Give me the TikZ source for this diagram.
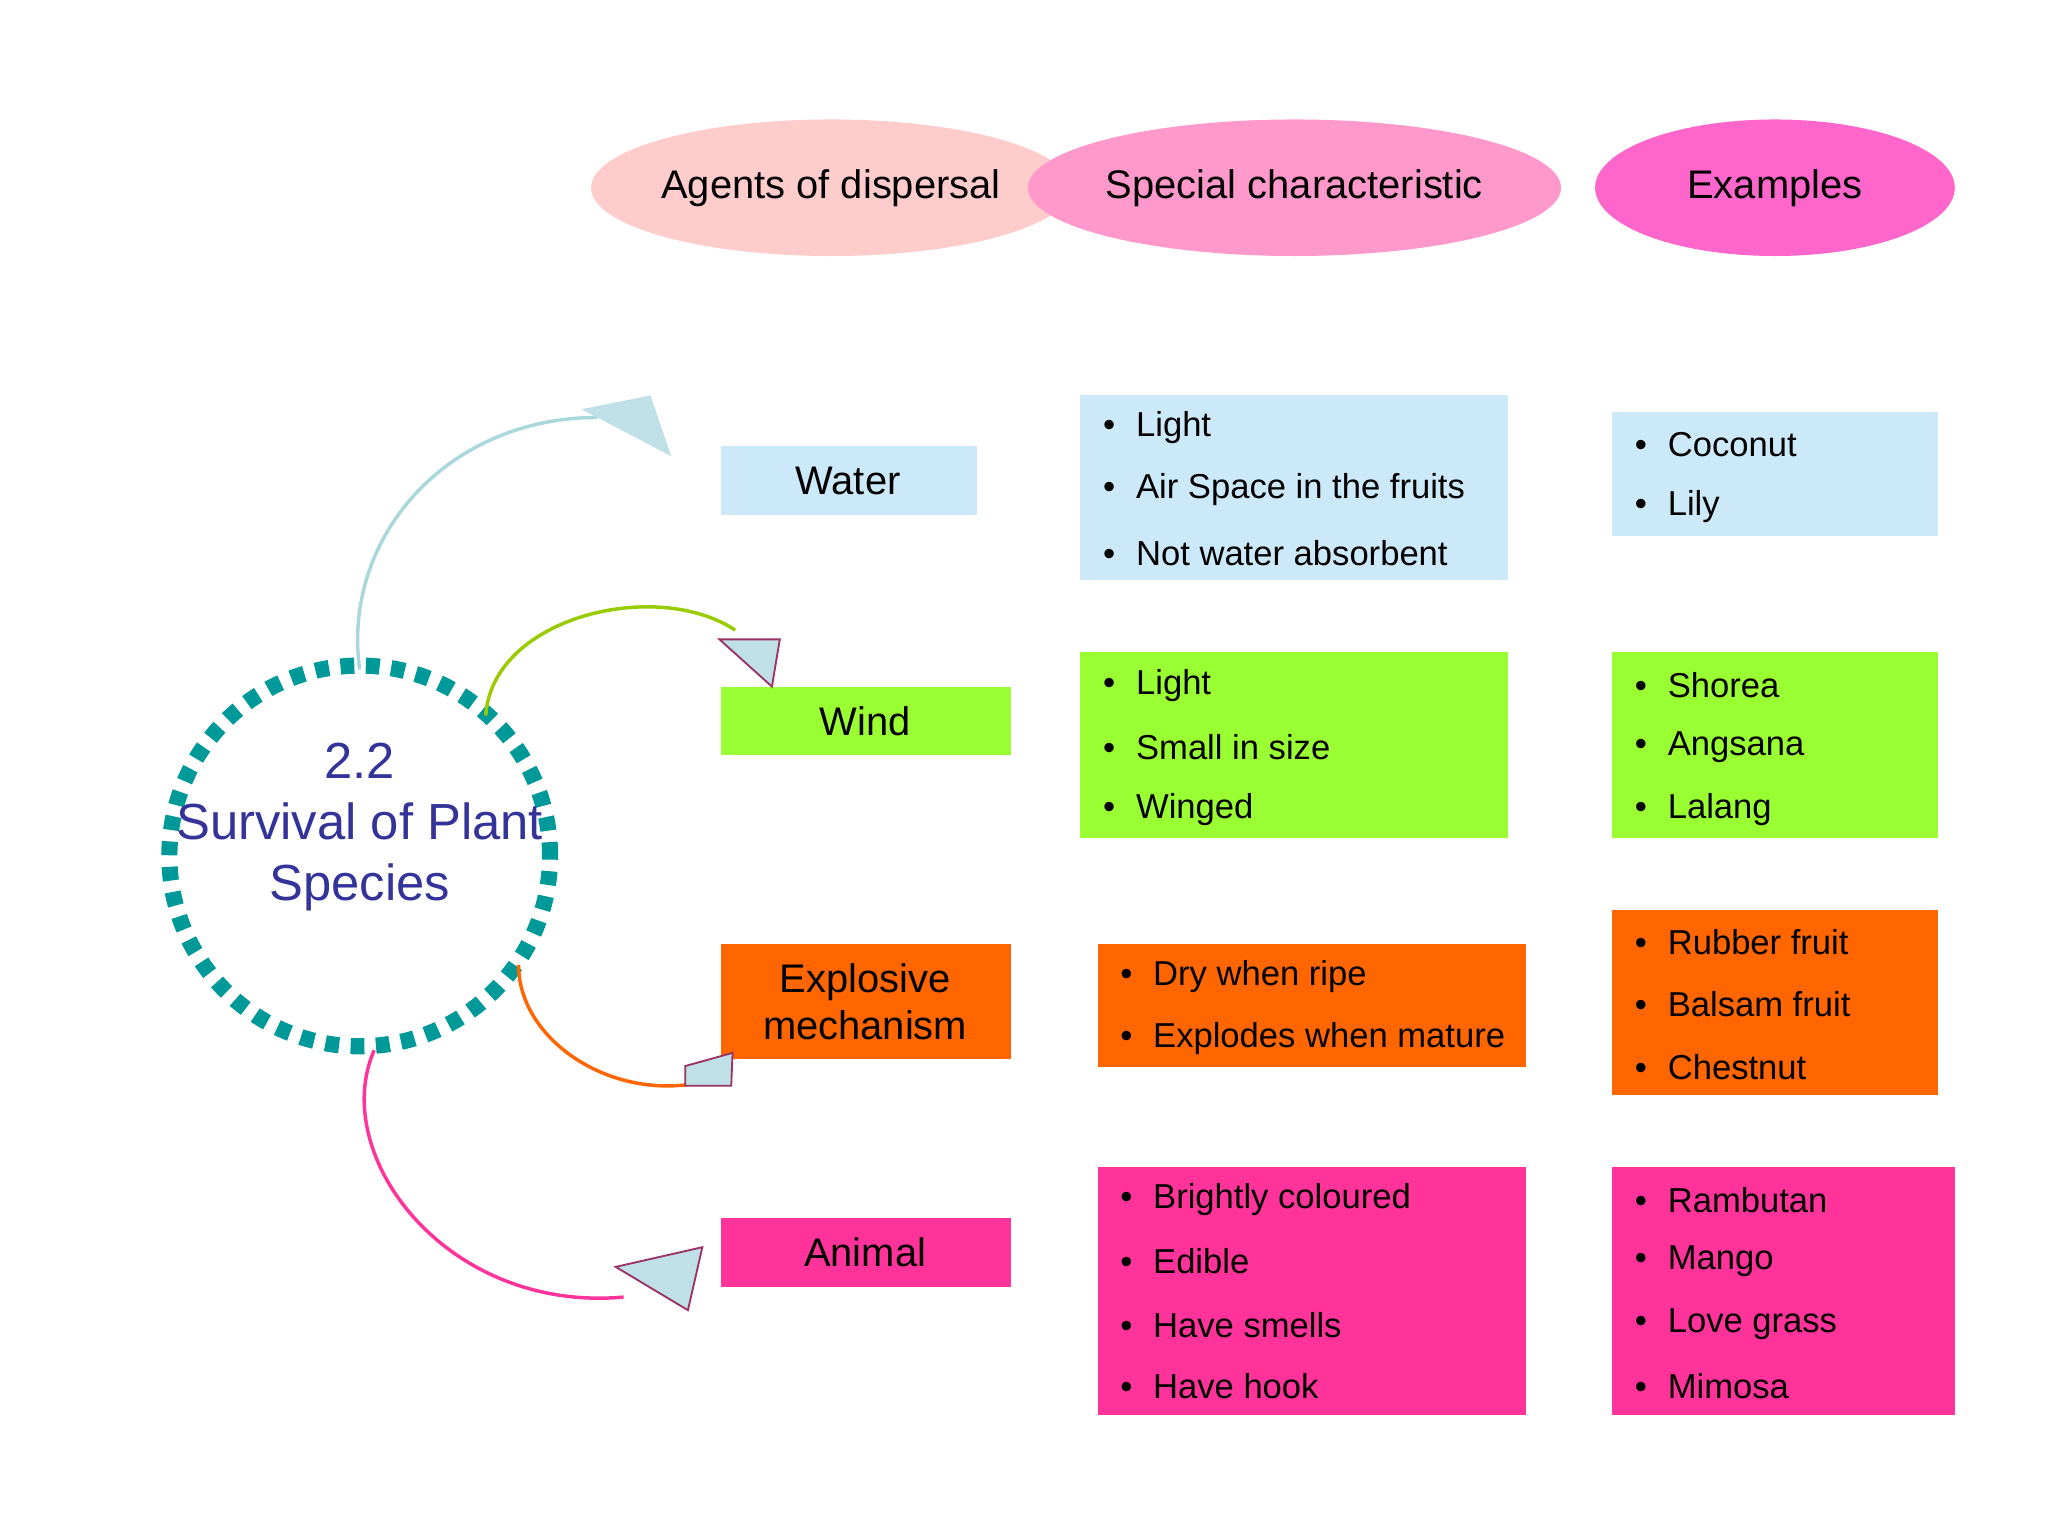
\documentclass[tikz,border=0pt]{standalone}
\usepackage{fontspec}
\setmainfont{Liberation Sans}
\usetikzlibrary{shapes.geometric}
\begin{document}
\begin{tikzpicture}[x=0.02cm,y=-0.02cm,
  hdr/.style={ellipse,minimum width=326*0.02cm,minimum height=104*0.02cm,inner sep=0pt,font=\fontsize{17.3}{20}\selectfont},
  agent/.style={rectangle,inner sep=0pt,align=center,font=\fontsize{17.3}{20}\selectfont},
  bl/.style={anchor=west,inner sep=0pt,font=\fontsize{15}{18}\selectfont},
  tip/.style={fill=arrfill,line width=0.8pt}]
\definecolor{cblue}{HTML}{CCE9F9}
\definecolor{cgreen}{HTML}{99FF33}
\definecolor{corange}{HTML}{FF6600}
\definecolor{cpink}{HTML}{FF3399}
\definecolor{arrfill}{HTML}{BFE0E6}
\definecolor{teal}{HTML}{009999}
\definecolor{navy}{HTML}{333399}
\useasboundingbox (0,0) rectangle (1560,1170);
\fill[white] (0,0) rectangle (1560,1170);
% headers
\node[hdr,fill={rgb,255:red,255;green,204;blue,204}] (h1) at (633,143) {Agents of dispersal};
\node[hdr,fill={rgb,255:red,255;green,153;blue,204}] (h2) at (986,143) {Special characteristic};
\node[hdr,fill={rgb,255:red,255;green,102;blue,204},minimum width=274*0.02cm] (h3) at (1352,143) {Examples};
% agent boxes
\fill[cblue] (549,340) rectangle (744,392); \node[agent] (water) at (646,366) {Water};
\fill[cgreen] (549,523) rectangle (770,575); \node[agent] (wind) at (659,549) {Wind};
\fill[corange] (549,719) rectangle (770,807); \node[agent] (expl) at (659,763) {Explosive\\mechanism};
\fill[cpink] (549,928) rectangle (770,980); \node[agent] (animal) at (659,954) {Animal};
% special boxes
\fill[cblue] (823,301) rectangle (1149,442);
\fill[cgreen] (823,497) rectangle (1149,638);
\fill[corange] (836,719) rectangle (1162,813);
\fill[cpink] (836,889) rectangle (1162,1078);
% example boxes
\fill[cblue] (1228,314) rectangle (1476,408);
\fill[cgreen] (1228,497) rectangle (1476,638);
\fill[corange] (1228,693) rectangle (1476,834);
\fill[cpink] (1228,889) rectangle (1489,1078);
% bullets
\foreach \t/\y [count=\i] in {Light/326,Air Space in the fruits/373,Not water absorbent/421,Light/522,Small in size/569,Winged/617}
  \node[bl] (sa\i) at (840,\y) {•\hspace{0.6em}\t};
\foreach \t/\y [count=\i] in {Dry when ripe/744,Explodes when mature/791,Brightly coloured/914,Edible/961,Have smells/1009,Have hook/1056}
  \node[bl] (sb\i) at (853,\y) {•\hspace{0.6em}\t};
\foreach \t/\y [count=\i] in {Coconut/339,Lily/386,Shorea/522,Angsana/569,Lalang/617,Rubber fruit/718,Balsam fruit/765,Chestnut/813,Rambutan/914,Mango/961,Love grass/1009,Mimosa/1056}
  \node[bl] (ex\i) at (1245,\y) {•\hspace{0.6em}\t};
% circle
\node[circle,draw=teal,line width=7pt,dash pattern=on 6pt off 5pt,minimum size=290*0.02cm] (c) at (274,652) {};
\node[align=center,text=navy,font=\fontsize{22}{26.5}\selectfont] (ctext) at (274,630) {2.2\\Survival of Plant\\Species};
% connectors
\coordinate (w0) at (274,510); \coordinate (w1) at (455,318);
\draw[color={rgb,255:red,170;green,215;blue,220},line width=1.5pt] (w0) .. controls (260,410) and (340,318) .. (w1);
\draw[tip,draw={rgb,255:red,190;green,224;blue,230}] (445,312) -- (495,302) -- (510,346) -- cycle;
\coordinate (n0) at (370,545); \coordinate (n1) at (560,480);
\draw[color={rgb,255:red,153;green,204;blue,0},line width=1.5pt] (n0) .. controls (375,470) and (500,440) .. (n1);
\draw[tip,draw={rgb,255:red,153;green,51;blue,102}] (548,487) -- (594,487) -- (588,523) -- cycle;
\coordinate (e0) at (395,735); \coordinate (e1) at (525,826);
\draw[color=corange,line width=1.5pt] (e0) .. controls (395,790) and (460,835) .. (e1);
\draw[tip,draw={rgb,255:red,153;green,51;blue,102}] (522,812) -- (558,802) -- (557,827) -- (522,827) -- cycle;
\coordinate (a0) at (285,800); \coordinate (a1) at (475,988);
\draw[color=cpink,line width=1.5pt] (a0) .. controls (250,880) and (340,1000) .. (a1);
\draw[tip,draw={rgb,255:red,153;green,51;blue,102}] (469,965) -- (535,950) -- (524,998) -- cycle;
\end{tikzpicture}
\end{document}
